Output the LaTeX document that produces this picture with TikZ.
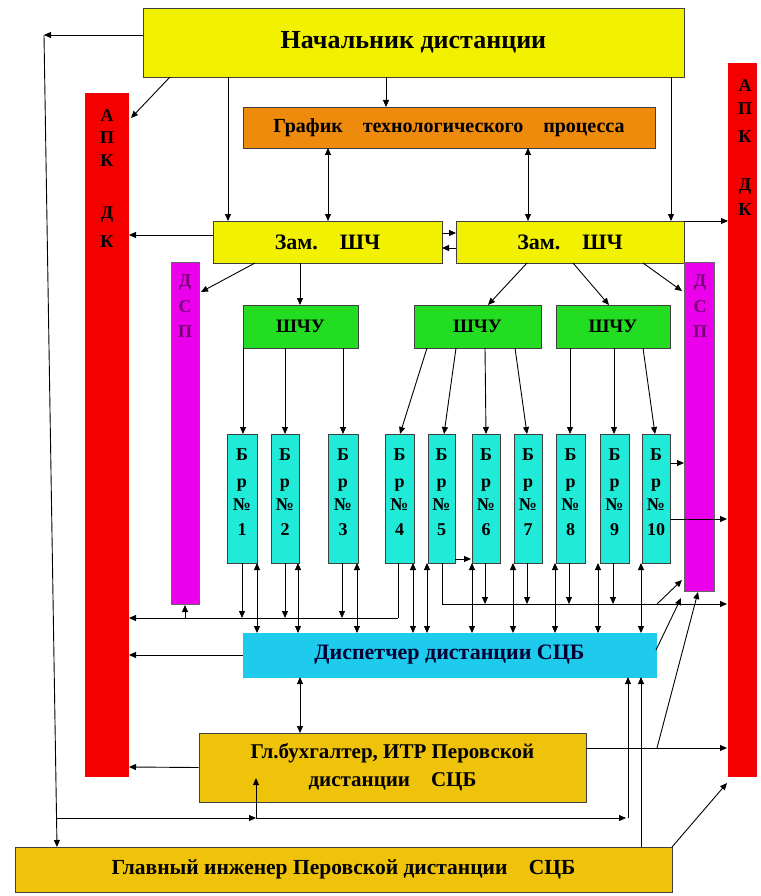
\documentclass[tikz,border=0pt]{standalone}
\usepackage{fontspec}
\setmainfont{Liberation Serif}
\usetikzlibrary{arrows.meta}
\definecolor{cyel}{HTML}{F2F200}
\definecolor{cora}{HTML}{EE8A0C}
\definecolor{cred}{HTML}{F40000}
\definecolor{cmag}{HTML}{EA00EA}
\definecolor{cgrn}{HTML}{22DD22}
\definecolor{ccya}{HTML}{20EAD8}
\definecolor{cdisp}{HTML}{1ECBEC}
\definecolor{cgold}{HTML}{EEC30A}
\newcommand\bx[7]{\node[#6,minimum width={(#4)-(#2)},minimum height={(#5)-(#3)}] (#1) at ({((#2)+(#4))/2},{((#3)+(#5))/2}) {#7};}
\begin{document}
\begin{tikzpicture}[x=1pt,y=-1pt,
  box/.style={draw=black!75,line width=0.8pt,inner sep=0pt,font=\bfseries},
  bar/.style={box,draw=none},
  a/.style={-{Triangle[length=7pt,width=6pt]},line width=0.9pt},
  aa/.style={{Triangle[length=7pt,width=6pt]}-{Triangle[length=7pt,width=6pt]},line width=0.9pt},
  l/.style={line width=0.9pt},
  vt/.style={font=\bfseries\fontsize{18}{18}\selectfont,inner sep=0pt},
  br/.style={box,fill=ccya,anchor=north,text depth=0pt}]
\useasboundingbox (0,0) rectangle (760,896);
% boxes
\bx{nach}{143}{8}{684}{77}{box,fill=cyel,font=\bfseries\fontsize{26}{28}\selectfont}{Начальник дистанции}
\bx{graf}{243}{107}{655}{148}{box,fill=cora,font=\bfseries\fontsize{20}{22}\selectfont}{График\quad технологического\quad процесса}
\bx{redl}{85}{93}{129}{777}{bar,fill=cred}{}
\bx{redr}{728}{63}{757}{777}{bar,fill=cred}{}
\bx{zl}{213}{221}{442}{263}{box,fill=cyel,font=\bfseries\fontsize{22}{24}\selectfont}{Зам.\quad ШЧ}
\bx{zr}{456}{221}{684}{263}{box,fill=cyel,font=\bfseries\fontsize{22}{24}\selectfont}{Зам.\quad ШЧ}
\bx{dsl}{171}{262}{199}{604}{box,fill=cmag,draw=black!60}{}
\bx{dsr}{684}{262}{714}{591}{box,fill=cmag,draw=black!60}{}
\bx{s1}{243}{305}{358}{348}{box,fill=cgrn,font=\bfseries\fontsize{19}{20}\selectfont}{ШЧУ}
\bx{s2}{414}{305}{541}{348}{box,fill=cgrn,font=\bfseries\fontsize{19}{20}\selectfont}{ШЧУ}
\bx{s3}{556}{305}{670}{348}{box,fill=cgrn,font=\bfseries\fontsize{19}{20}\selectfont}{ШЧУ}
\bx{disp}{243}{633}{656}{677}{box,fill=cdisp,draw=cdisp,font=\bfseries\fontsize{22}{24}\selectfont\color{black!80!blue}}{Диспетчер дистанции СЦБ}
\bx{buh}{199}{733}{586}{802}{box,fill=cgold,align=center,font=\bfseries\fontsize{21}{28}\selectfont}{Гл.бухгалтер, ИТР Перовской\\дистанции\quad СЦБ}
\bx{eng}{15}{847}{672}{892}{box,fill=cgold,font=\bfseries\fontsize{21.5}{24}\selectfont}{Главный инженер Перовской дистанции\quad СЦБ}
% vertical letters
\foreach \t/\y in {А/116,П/138,К/161,Д/215,К/242}{\node[vt] at (107,\y) {\t};}
\foreach \t/\y in {А/86,П/109,К/137,Д/187,К/210}{\node[vt] at (745,\y) {\t};}
\foreach \t/\y in {Д/283,С/307,П/332}{\node[vt,text=black!50!cmag] at (185,\y) {\t}; \node[vt,text=black!50!cmag] at (700,\y) {\t};}
% BR boxes
\foreach \n/\xa/\xb in {1/227/257,2/271/299,3/328/358,4/385/414,5/428/455,6/472/500,7/514/542,8/556/585,9/600/629,10/642/670}{
  \bx{b\n}{\xa}{434}{\xb}{563}{box,fill=ccya}{}
  \foreach \t/\y in {Б/455,р/485,№/505}{\node[vt] at ({(\xa+\xb)/2},\y) {\t};}
  \node[vt] at ({(\xa+\xb)/2},530) {\n};
}
% top arrows
\coordinate (tl) at (44,35);
\draw[a] (nach.west |- tl) -- (tl);
\draw[a] (tl) -- (57,847);
\draw[a] (170,77) -- (131,118);
\draw[a] (228,77) -- (228,221);
\draw[a] (386,77) -- (386,107);
\draw[a] (671,77) -- (671,221);
\draw[aa] (328,148) -- (328,221);
\draw[aa] (528,148) -- (528,221);
\draw[a] (213,235) -- (129,235);
\draw[a] (684,221) -- (728,221);
\draw[a] (442,233) -- (456,233);
\draw[a] (456,248) -- (442,248);
\draw[a] (255,263) -- (201,292);
\draw[a] (300,263) -- (300,305);
\draw[a] (527,263) -- (488,305);
\draw[a] (573,263) -- (609,305);
\draw[a] (643,263) -- (682,291);
% SHCHU to BR
\draw[a] (243,348) -- (243,434);
\draw[a] (285,348) -- (285,434);
\draw[a] (343,348) -- (343,434);
\draw[a] (427,348) -- (400,434);
\draw[a] (456,348) -- (444,434);
\draw[a] (485,348) -- (486,434);
\draw[a] (515,348) -- (527,434);
\draw[a] (570,348) -- (570,434);
\draw[a] (614,348) -- (614,434);
\draw[a] (643,348) -- (655,434);
% BR10 to right
\draw[a] (670,463) -- (684,463);
\draw[a] (670,519) -- (727,519);
\draw[a] (455,559) -- (471,559);
% BR bottoms
\foreach \x in {242,285,342}{\draw[a] (\x,563) -- (\x,618);}
\foreach \x in {257,298,357,413,427,472,513,555,598,641}{\draw[aa] (\x,563) -- (\x,633);}
\foreach \x in {485,527,569,613}{\draw[a] (\x,563) -- (\x,604);}
\draw[l] (398,563) -- (398,618);
\draw[a] (398,618) -- (129,618);
\draw[a] (185,618) -- (185,605);
\draw[l] (442,563) -- (442,604);
\draw[a] (442,604) -- (727,604);
% dispatcher and lower
\draw[a] (disp.west) -- (129,655);
\draw[aa] (300,677) -- (300,733);
\draw[a] (buh.west) -- (129,767);
\draw[a] (586,748) -- (727,748);
\draw[a] (657,604) -- (682,580);
\draw[a] (656,650) -- (681,598);
\draw[a] (657,748) -- (698,592);
\draw[a] (57,818) -- (256,818);
\draw[a] (256,818) -- (626,818);
\draw[a] (256,818) -- (256,778);
\draw[a] (628,818) -- (628,677);
\draw[a] (641,847) -- (641,677);
\draw[a] (672,847) -- (727,783);
\end{tikzpicture}
\end{document}
